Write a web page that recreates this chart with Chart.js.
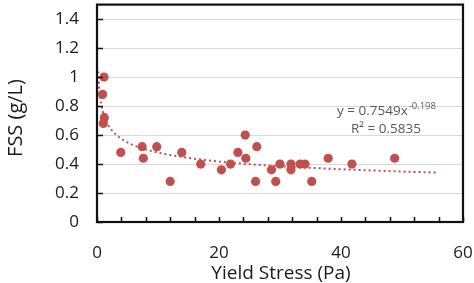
<!DOCTYPE html>
<html>
<head>
<meta charset="utf-8">
<script src="https://cdn.jsdelivr.net/npm/chart.js@4/dist/chart.umd.min.js"></script>
<style>
  html, body { margin: 0; padding: 0; background: #fff; }
  canvas { display: block; }
</style>
</head>
<body>
<canvas id="fssChart" width="474" height="283"></canvas>
<script>
// measured points: yield stress (Pa) vs FSS (g/L)
const yieldStress = [1.15, 0.93, 1.2, 1.03, 3.9, 7.4, 7.6, 9.8, 12.0, 13.9, 17.0, 20.4, 21.9, 23.1, 24.3, 24.4,
  26.2, 26.0, 28.6, 29.3, 30.0, 31.8, 31.8, 33.3, 34.1, 35.2, 37.9, 41.8, 48.8];
const fss = [1.0, 0.88, 0.72, 0.68, 0.48, 0.52, 0.44, 0.52, 0.28, 0.48, 0.40, 0.36, 0.40, 0.48, 0.60, 0.44,
  0.52, 0.28, 0.36, 0.28, 0.40, 0.40, 0.36, 0.40, 0.40, 0.28, 0.44, 0.40, 0.44];

// power trendline y = 0.7549x^-0.198, points along the dotted curve
const trendX = [0.2, 0.4, 0.7, 1, 1.5, 2, 3, 4, 6, 8, 11, 15, 20, 25, 30, 40, 48, 55.5];
const trendY = [1.038, 0.905, 0.81, 0.755, 0.697, 0.658, 0.607, 0.574, 0.529, 0.5, 0.47, 0.442, 0.417, 0.399, 0.385, 0.364, 0.351, 0.341];

const yTicks = [0, 0.2, 0.4, 0.6, 0.8, 1, 1.2, 1.4];
const xLabels = [0, 20, 40, 60];

const red = '#c0504d';
const tickFont = { family: 'Open Sans', size: 17 };

// frame, inward tick marks, axis titles and the trendline equation
const decor = {
  id: 'decor',
  afterDraw(chart) {
    const { ctx, chartArea: a, scales: { x, y } } = chart;
    ctx.save();
    ctx.strokeStyle = '#111';
    ctx.lineWidth = 1.5;
    ctx.beginPath();
    x.ticks.forEach(t => {
      const px = Math.round(x.getPixelForValue(t.value)) + 0.5;
      ctx.moveTo(px, a.bottom);
      ctx.lineTo(px, a.bottom - 5);
    });
    y.ticks.forEach(t => {
      const py = Math.round(y.getPixelForValue(t.value)) + 0.5;
      ctx.moveTo(a.left, py);
      ctx.lineTo(a.left + 6, py);
    });
    ctx.stroke();
    ctx.lineWidth = 2.2;
    ctx.strokeRect(a.left, a.top, a.right - a.left, a.bottom - a.top);

    ctx.fillStyle = '#1a1a1a';
    ctx.font = '19px "Open Sans"';
    ctx.textAlign = 'center';
    ctx.textBaseline = 'alphabetic';
    ctx.fillText('Yield Stress (Pa)', 281, 279);
    ctx.translate(22, 118);
    ctx.rotate(-Math.PI / 2);
    ctx.font = '20px "Open Sans"';
    ctx.fillText('FSS (g/L)', 0, 0);
    ctx.restore();

    ctx.save();
    ctx.fillStyle = '#595959';
    ctx.textAlign = 'left';
    ctx.textBaseline = 'alphabetic';
    ctx.font = '13.5px "Open Sans"';
    const eq = 'y = 0.7549x';
    ctx.fillText(eq, 337, 115);
    const w = ctx.measureText(eq).width;
    ctx.font = '9.5px "Open Sans"';
    ctx.fillText('-0.198', 337 + w + 1, 109);
    ctx.font = '13.5px "Open Sans"';
    ctx.fillText('R² = 0.5835', 351, 133);
    ctx.restore();
  }
};

new Chart(document.getElementById('fssChart'), {
  type: 'scatter',
  data: {
    datasets: [
      {
        type: 'line',
        data: trendX.map((v, i) => ({ x: v, y: trendY[i] })),
        borderColor: red,
        borderWidth: 2,
        borderDash: [2, 3],
        pointRadius: 0,
        fill: false,
        cubicInterpolationMode: 'monotone',
        order: 0
      },
      {
        data: yieldStress.map((v, i) => ({ x: v, y: fss[i] })),
        backgroundColor: red,
        borderWidth: 0,
        pointRadius: 4.6,
        order: 1
      }
    ]
  },
  options: {
    responsive: false,
    animation: false,
    layout: { padding: { top: 1, right: 11, left: 0, bottom: 0 } },
    plugins: { legend: { display: false }, tooltip: { enabled: false } },
    scales: {
      x: {
        type: 'linear',
        min: 0,
        max: 60,
        afterFit: s => { s.height = 61; s.paddingLeft = 0; s.paddingRight = 0; },
        grid: { display: false },
        border: { display: false },
        ticks: {
          stepSize: 4,
          autoSkip: false,
          maxRotation: 0,
          padding: 13,
          color: '#1a1a1a',
          font: tickFont,
          callback: v => (xLabels.includes(v) ? String(v) : '')
        }
      },
      y: {
        min: 0,
        max: 1.5,
        afterFit: s => { s.width = 97; s.paddingTop = 0; s.paddingBottom = 0; },
        afterBuildTicks: s => { s.ticks = yTicks.map(v => ({ value: v })); },
        grid: { color: '#d9d9d9', lineWidth: 1, drawTicks: false },
        border: { display: false },
        ticks: {
          padding: 18,
          color: '#1a1a1a',
          font: tickFont,
          callback: v => String(Number(v.toFixed(1)))
        }
      }
    }
  },
  plugins: [decor]
});
</script>
</body>
</html>
